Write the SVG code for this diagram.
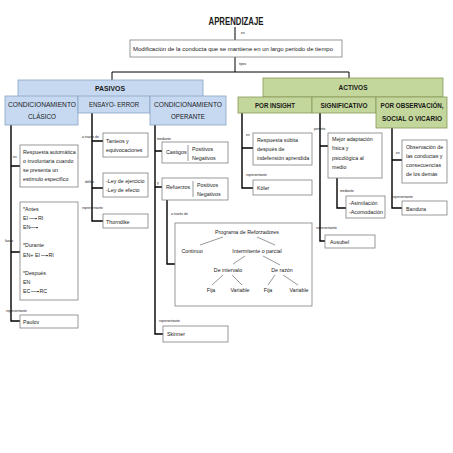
<svg xmlns="http://www.w3.org/2000/svg" width="453" height="453" viewBox="0 0 453 453">
<style>
text{font-family:"Liberation Sans",Arial,sans-serif;fill:#1a1a1a}
.t{font-size:5.3px}
.lb{font-size:3.4px}
.h{font-size:7px}
.hb{font-size:7px;font-weight:bold}
.pas{fill:#c6d9f1;stroke:#8aa4c4;stroke-width:0.8}
.act{fill:#c3d69b;stroke:#8a9a5b;stroke-width:0.8}
.box{fill:#fff;stroke:#7f7f7f;stroke-width:0.8}
.c{fill:none;stroke:#000;stroke-width:1.4}
.c1{fill:none;stroke:#000;stroke-width:1}
.thin{fill:none;stroke:#333;stroke-width:0.5}
.mid{text-anchor:middle}
</style>
<defs>
<marker id="ah" viewBox="0 0 6 6" refX="5" refY="3" markerWidth="4" markerHeight="4" orient="auto"><path d="M0,0 L6,3 L0,6 z" fill="#333"/></marker>
</defs>
<rect width="453" height="453" fill="#fff"/>

<g id="connectors">
<path class="c1" d="M235,27 V40 M235,57 V72 M112,72 H349 M112,72 V80 M349,72 V78"/>
<path class="c" d="M11,125 V321 H20 M11,166 H20 M11,252 H20"/>
<path class="c" d="M92,113 V221 H103 M92,141 H103 M92,188 H103"/>
<path class="c" d="M155,125 V334 H163 M155,151 H162 M155,187 H162"/>
<path class="c" d="M167,200 V264 H175"/>
<path class="c" d="M242,113 V188 H253 M242,148 H253"/>
<path class="c" d="M320,113 V241 H325 M320,146 H328"/>
<path class="c" d="M337,178 V208 H346"/>
<path class="c" d="M392,128 V208 H402 M392,160 H402"/>
</g>

<g id="title"><text x="236" y="25" class="mid" style="font-size:10px;font-weight:bold" textLength="55" lengthAdjust="spacingAndGlyphs">APRENDIZAJE</text></g>
<text x="241" y="34" class="lb">es</text>
<g id="definicion"><rect x="130" y="40" width="212" height="17" class="box"/>
<text x="133" y="51" style="font-size:6px" textLength="200" lengthAdjust="spacingAndGlyphs">Modificación de la conducta que se mantiene en un largo periodo de tiempo</text></g>
<text x="239" y="65" class="lb">tipos</text>

<g id="pasivos"><rect x="18" y="80" width="185" height="17" class="pas"/>
<text x="110" y="91" class="mid hb" textLength="30" lengthAdjust="spacingAndGlyphs">PASIVOS</text></g>
<g id="clasico"><rect x="5" y="96" width="73" height="29" class="pas"/>
<text x="42" y="107" class="mid h" textLength="68" lengthAdjust="spacingAndGlyphs">CONDICIONAMIENTO</text>
<text x="42" y="119" class="mid h" textLength="28" lengthAdjust="spacingAndGlyphs">CLÁSICO</text></g>
<g id="ensayo"><rect x="78" y="96" width="72" height="17" class="pas"/>
<text x="114" y="107" class="mid h" textLength="50" lengthAdjust="spacingAndGlyphs">ENSAYO- ERROR</text></g>
<g id="operante"><rect x="150" y="96" width="76" height="29" class="pas"/>
<text x="188" y="107" class="mid h" textLength="68" lengthAdjust="spacingAndGlyphs">CONDICIONAMIENTO</text>
<text x="188" y="119" class="mid h" textLength="34" lengthAdjust="spacingAndGlyphs">OPERANTE</text></g>

<g id="activos"><rect x="263" y="78" width="180" height="19" class="act"/>
<text x="353" y="90" class="mid hb" textLength="29" lengthAdjust="spacingAndGlyphs">ACTIVOS</text></g>
<g id="insight"><rect x="238" y="97" width="74" height="16" class="act"/>
<text x="275" y="107.5" class="mid hb" textLength="40" lengthAdjust="spacingAndGlyphs">POR INSIGHT</text></g>
<g id="significativo"><rect x="312" y="97" width="64" height="16" class="act"/>
<text x="344" y="107.5" class="mid hb" textLength="47" lengthAdjust="spacingAndGlyphs">SIGNIFICATIVO</text></g>
<g id="observacion"><rect x="376" y="97" width="71" height="31" class="act"/>
<text x="412" y="108" class="mid hb" textLength="63" lengthAdjust="spacingAndGlyphs">POR OBSERVACIÓN,</text>
<text x="412" y="121" class="mid hb" textLength="60" lengthAdjust="spacingAndGlyphs">SOCIAL O VICARIO</text></g>

<!-- Clasico column -->
<text x="13" y="158" class="lb">es</text>
<g id="respuesta-automatica"><rect x="20" y="145" width="58" height="42" class="box"/>
<text class="t" x="23"><tspan x="23" y="154">Respuesta automática</tspan><tspan x="23" y="163">o involuntaria cuando</tspan><tspan x="23" y="172">se presenta un</tspan><tspan x="23" y="181">estímulo específico</tspan></text></g>
<text x="5" y="242" class="lb">fases</text>
<g id="fases"><rect x="20" y="202" width="58" height="98" class="box"/>
<text class="t" x="23" y="211">*Antes</text>
<text class="t" x="23" y="220">EI</text><path class="thin" d="M29,218.5 H37" marker-end="url(#ah)"/><text class="t" x="38" y="220">RI</text>
<text class="t" x="23" y="229">EN</text><path class="thin" d="M30,227.5 H38" marker-end="url(#ah)"/>
<text class="t" x="23" y="247">*Durante</text>
<text class="t" x="23" y="257">EN+ EI</text><path class="thin" d="M41,255.5 H48" marker-end="url(#ah)"/><text class="t" x="48.5" y="257">RI</text>
<text class="t" x="23" y="275">*Después</text>
<text class="t" x="23" y="284">EN</text>
<text class="t" x="23" y="293">EC</text><path class="thin" d="M31,291.5 H39" marker-end="url(#ah)"/><text class="t" x="39.5" y="293">RC</text></g>
<text x="6" y="312" class="lb">representante</text>
<g id="paulov"><rect x="20" y="315" width="58" height="13" class="box"/><text class="t" x="23" y="324">Paulov</text></g>

<!-- Ensayo column -->
<text x="82" y="138" class="lb">a través de</text>
<g id="tanteos"><rect x="103" y="133" width="45" height="24" class="box"/>
<text class="t"><tspan x="106" y="143">Tanteos y</tspan><tspan x="106" y="152">equivocaciones</tspan></text></g>
<text x="85" y="183" class="lb">define</text>
<g id="leyes"><rect x="103" y="173" width="45" height="24" class="box"/>
<text class="t"><tspan x="106" y="183">-Ley de ejercicio</tspan><tspan x="106" y="192">-Ley de efecto</tspan></text></g>
<text x="82" y="209" class="lb">representante</text>
<g id="thorndike"><rect x="103" y="214" width="45" height="14" class="box"/><text class="t" x="106" y="223.5">Thorndike</text></g>

<!-- Operante column -->
<text x="157" y="140" class="lb">mediante</text>
<g id="castigos"><rect x="162" y="142" width="66" height="21" class="box"/>
<text class="t" x="166" y="154">Castigos</text><path class="thin" d="M188,145 V161"/>
<text class="t"><tspan x="192" y="151">Positivos</tspan><tspan x="192" y="160">Negativos</tspan></text></g>
<text x="157" y="184" class="lb">y</text>
<g id="refuerzos"><rect x="162" y="178" width="66" height="22" class="box"/>
<text class="t" x="166" y="189">Refuerzos</text><path class="thin" d="M193,181 V197"/>
<text class="t"><tspan x="197" y="187">Positivos</tspan><tspan x="197" y="196">Negativos</tspan></text></g>
<text x="171" y="215" class="lb">a través de</text>
<g id="programa"><rect x="175" y="223" width="137" height="83" class="box"/>
<path class="thin" d="M223,237 L200,245 M257,237 L275,245 M245,256 L233,264 M263,256 L280,265 M223,275 L212,285 M232,275 L242,285 M275,275 L268,285 M283,275 L298,285"/>
<text class="t mid" x="247" y="234">Programa de Reforzadores</text>
<text class="t mid" x="192" y="253">Continuo</text>
<text class="t mid" x="257" y="253">Intermitente o parcial</text>
<text class="t mid" x="228" y="272">De intervalo</text>
<text class="t mid" x="282" y="272">De razón</text>
<text class="t mid" x="211" y="292">Fija</text>
<text class="t mid" x="240" y="292">Variable</text>
<text class="t mid" x="268" y="292">Fija</text>
<text class="t mid" x="299" y="292">Variable</text></g>
<text x="159" y="322" class="lb">representante</text>
<g id="skinner"><rect x="163" y="326" width="65" height="16" class="box"/><text class="t" x="167" y="336">Skinner</text></g>

<!-- Insight column -->
<text x="246" y="136" class="lb">es</text>
<g id="respuesta-subita"><rect x="253" y="133" width="59" height="32" class="box"/>
<text class="t"><tspan x="257" y="142">Respuesta súbita</tspan><tspan x="257" y="151">después de</tspan><tspan x="257" y="160">indefensión aprendida</tspan></text></g>
<text x="246" y="176" class="lb">representante</text>
<g id="koler"><rect x="253" y="180" width="59" height="15" class="box"/><text class="t" x="257" y="190">Köler</text></g>

<!-- Significativo column -->
<text x="314" y="130" class="lb">permite</text>
<g id="adaptacion"><rect x="328" y="133" width="54" height="45" class="box"/>
<text class="t"><tspan x="332" y="141">Mejor adaptación</tspan><tspan x="332" y="150">física y</tspan><tspan x="332" y="159.5">psicológica al</tspan><tspan x="332" y="168.5">medio</tspan></text></g>
<text x="340" y="192" class="lb">mediante</text>
<g id="asimilacion"><rect x="346" y="196" width="39" height="22" class="box"/>
<text class="t"><tspan x="349" y="205">-Asimilación</tspan><tspan x="349" y="214">-Acomodación</tspan></text></g>
<text x="316" y="229" class="lb">representante</text>
<g id="ausubel"><rect x="325" y="235" width="50" height="13" class="box"/><text class="t" x="330" y="244">Ausubel</text></g>

<!-- Observacion column -->
<text x="396" y="154" class="lb">es</text>
<g id="observacion-def"><rect x="402" y="140" width="45" height="43" class="box"/>
<text class="t"><tspan x="406" y="149">Observación de</tspan><tspan x="406" y="158">las conductas y</tspan><tspan x="406" y="167">consecuencias</tspan><tspan x="406" y="176">de los demás</tspan></text></g>
<text x="392" y="198" class="lb">representante</text>
<g id="bandura"><rect x="402" y="201" width="45" height="14" class="box"/><text class="t" x="406" y="210.5">Bandura</text></g>
</svg>
